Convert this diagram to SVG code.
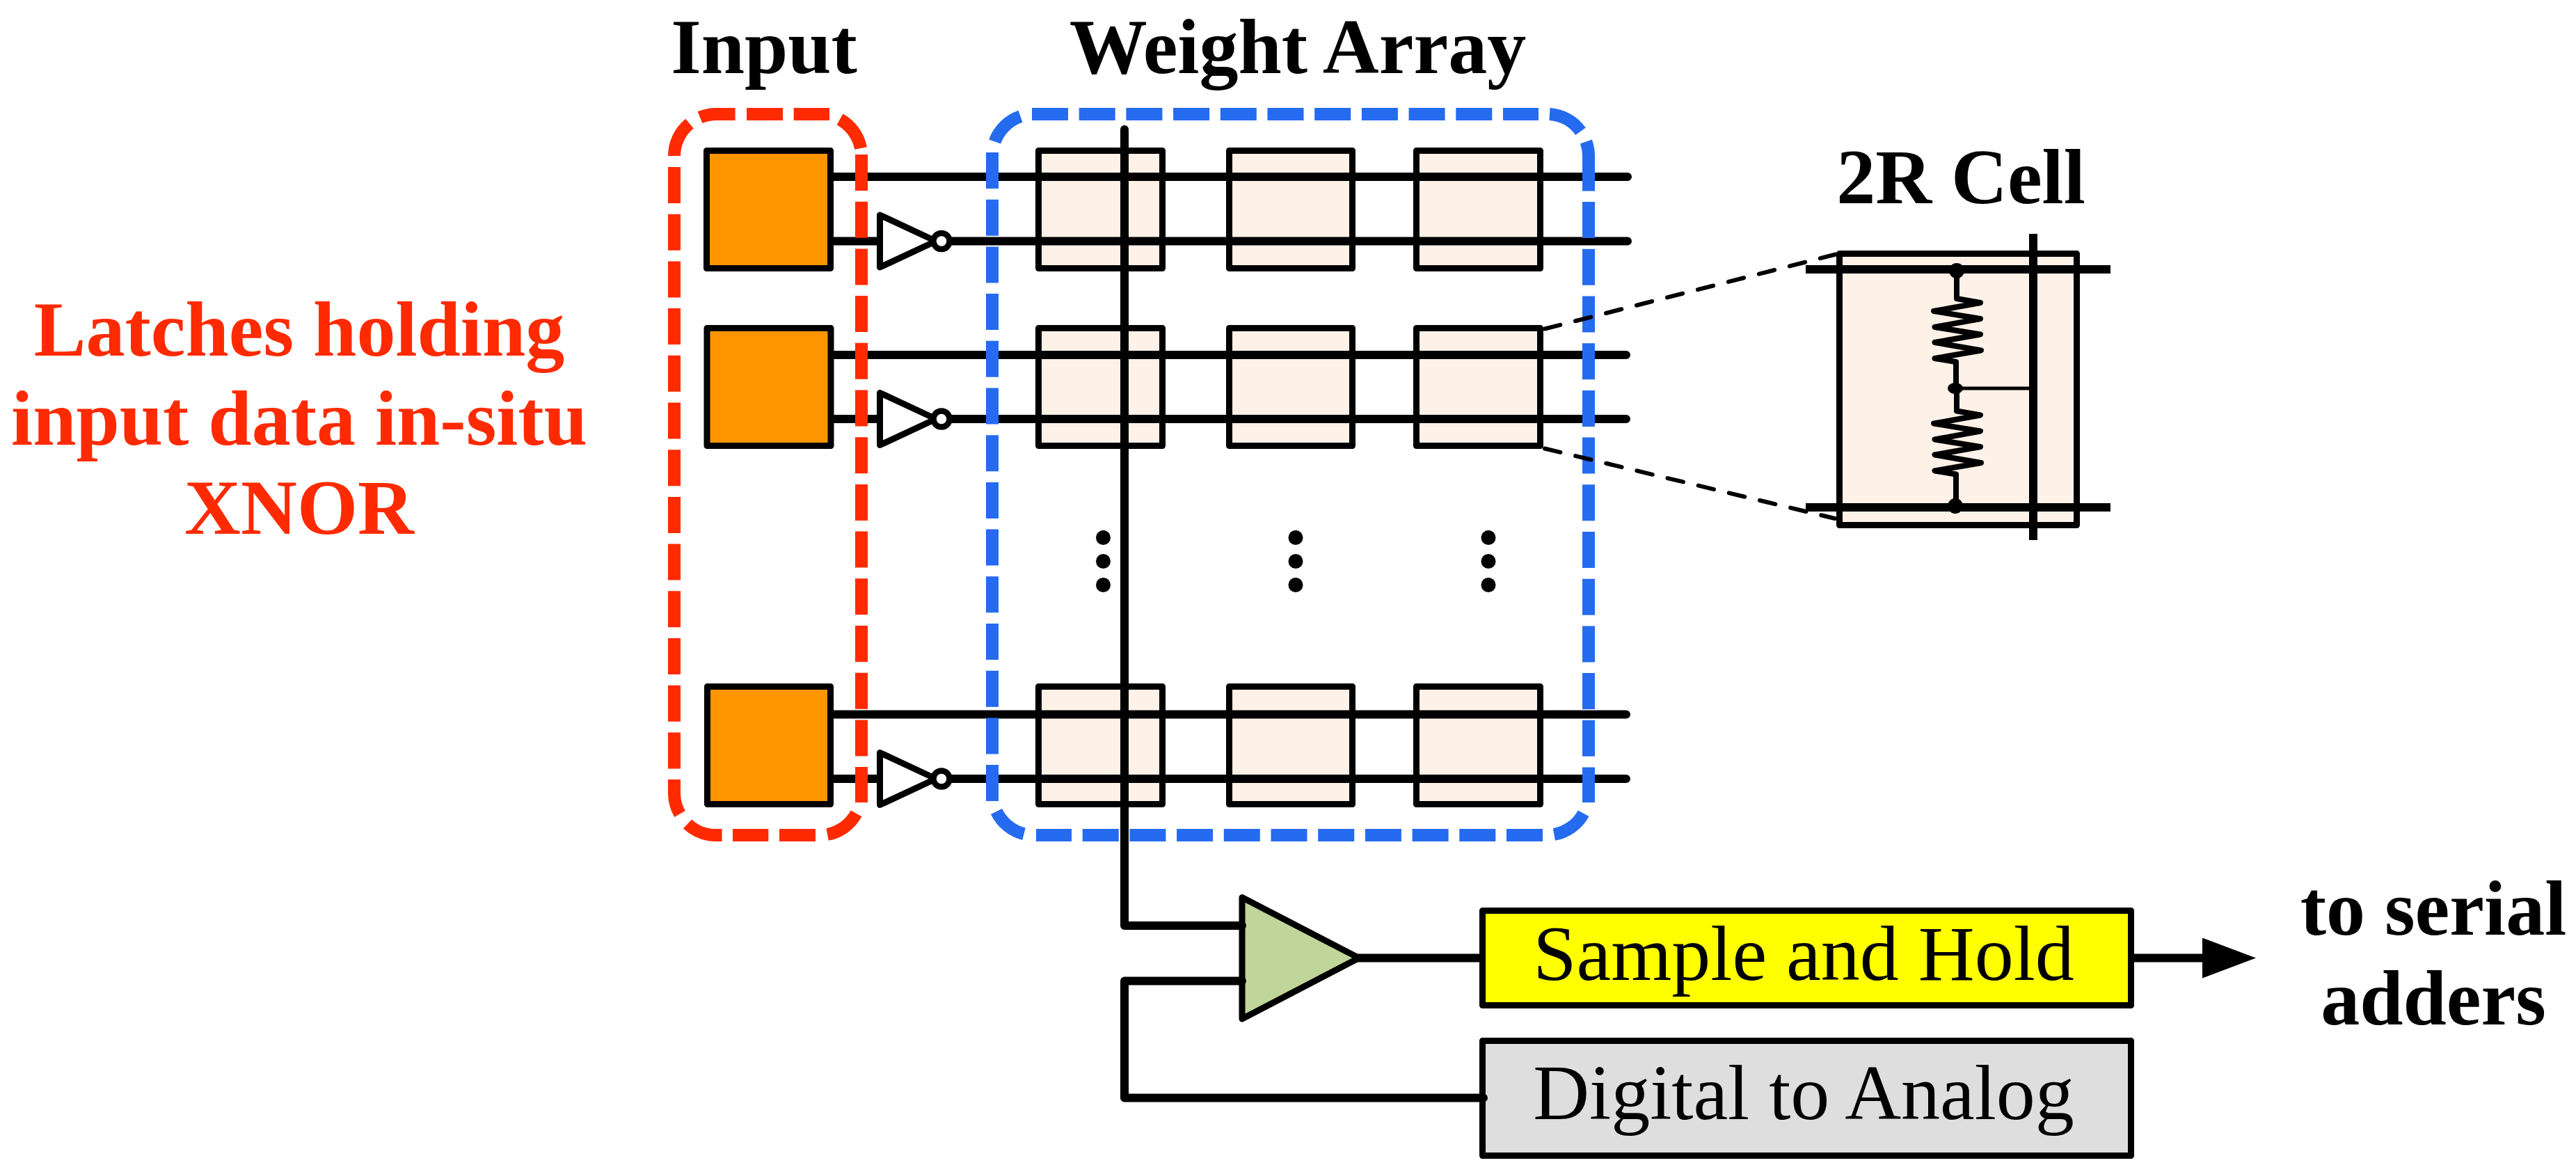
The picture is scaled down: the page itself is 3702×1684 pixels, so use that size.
<svg xmlns="http://www.w3.org/2000/svg" width="3702" height="1684" viewBox="0 0 3702 1684">
<style>
text{font-family:"Liberation Serif","Times New Roman",serif;font-size:112px;text-anchor:middle}
.b{font-weight:bold;fill:#000}
.r{font-weight:bold;fill:#FF2A00}
.t{fill:#000}
.box{stroke:#000;stroke-width:9;stroke-linejoin:round}
.latch{fill:#FF9500}
.cell{fill:#FEF1E8}
.wire{fill:none;stroke:#000;stroke-width:12;stroke-linecap:round;stroke-linejoin:round}
.butt{fill:none;stroke:#000;stroke-width:12;stroke-linecap:butt}
.inv{fill:#fff;stroke:#000;stroke-width:9;stroke-linejoin:round}
.bub{fill:#fff;stroke:#000;stroke-width:8.5}
.dots{fill:#000}
.res{fill:none;stroke:#000;stroke-width:8;stroke-linejoin:round}
.fr{fill:none;stroke-width:18;stroke-linecap:butt}
.dash{stroke-dasharray:52 15.7}
.red{stroke:#FF2A00}
.blue{stroke:#256BF0}
.zoomline{fill:none;stroke:#000;stroke-width:6;stroke-linecap:round;stroke-dasharray:23 22.4}
</style>
<defs>
<marker id="ah" markerUnits="userSpaceOnUse" markerWidth="77" markerHeight="58" refX="0" refY="29" orient="auto"><path d="M0 0L77 29L0 58Z" fill="#000"/></marker>
<g id="inverter"><path class="inv" d="M1264.5 309V384L1345 346.5Z"/><circle class="bub" cx="1353" cy="346.5" r="11.5"/></g>
</defs>
<rect width="3702" height="1684" fill="#fff"/>
<g id="label-input"><text class="b" x="1098" y="105">Input</text></g>
<g id="label-weight"><text class="b" x="1865" y="105">Weight Array</text></g>
<g id="label-2r"><text class="b" x="2818" y="292">2R Cell</text></g>
<g id="label-latches"><text class="r" x="430" y="511">Latches holding</text><text class="r" x="430" y="639">input data in-situ</text><text class="r" x="430" y="767">XNOR</text></g>
<g id="label-serial"><text class="b" x="3497" y="1343">to serial</text><text class="b" x="3497" y="1472">adders</text></g>
<g id="latch-1"><rect class="box latch" x="1015.5" y="216.5" width="178" height="169"/></g>
<g id="latch-2"><rect class="box latch" x="1016" y="471.5" width="178" height="169"/></g>
<g id="latch-3"><rect class="box latch" x="1016.5" y="986.5" width="177" height="169"/></g>
<g id="cell-1-1"><rect class="box cell" x="1492.5" y="216.5" width="178" height="169"/></g>
<g id="cell-1-2"><rect class="box cell" x="1766.5" y="216.5" width="177" height="169"/></g>
<g id="cell-1-3"><rect class="box cell" x="2035.5" y="216.5" width="178" height="169"/></g>
<g id="cell-2-1"><rect class="box cell" x="1492.5" y="471.5" width="178" height="169"/></g>
<g id="cell-2-2"><rect class="box cell" x="1766.5" y="471.5" width="177" height="169"/></g>
<g id="cell-2-3"><rect class="box cell" x="2035.5" y="471.5" width="178" height="169"/></g>
<g id="cell-3-1"><rect class="box cell" x="1492.5" y="986.5" width="178" height="169"/></g>
<g id="cell-3-2"><rect class="box cell" x="1766.5" y="986.5" width="177" height="169"/></g>
<g id="cell-3-3"><rect class="box cell" x="2035.5" y="986.5" width="178" height="169"/></g>
<g id="ellipsis" class="dots">
<circle cx="1585.5" cy="772.5" r="10.5"/><circle cx="1585.5" cy="806.5" r="10.5"/><circle cx="1585.5" cy="840.5" r="10.5"/>
<circle cx="1862" cy="772.5" r="10.5"/><circle cx="1862" cy="806.5" r="10.5"/><circle cx="1862" cy="840.5" r="10.5"/>
<circle cx="2139" cy="772.5" r="10.5"/><circle cx="2139" cy="806.5" r="10.5"/><circle cx="2139" cy="840.5" r="10.5"/>
</g>
<g id="amp"><path class="box" fill="#BFD59A" d="M1785 1289.5V1464L1953 1376.5Z"/></g>
<g id="sample-hold"><rect class="box" fill="#FFFF00" x="2130.5" y="1308.5" width="932" height="136"/><text class="t" x="2592" y="1408">Sample and Hold</text></g>
<g id="dac"><rect class="box" fill="#DEDEDE" x="2130.5" y="1495.5" width="932" height="165"/><text class="t" x="2592" y="1608">Digital to Analog</text></g>
<g id="connectors">
<path class="wire" d="M1197 254H2339M1197 510H2337M1197 1026.5H2337"/>
<path class="wire" d="M1197 346.5H1280M1360 346.5H2339M1197 602H1280M1360 602H2337M1197 1119H1280M1360 1119H2337"/>
<path class="wire" d="M1616 186V1330H1785"/>
<path class="wire" d="M1785 1409.5H1616V1577.5H2132"/>
<path class="wire" d="M1952 1376.5H2126"/>
<path class="butt" marker-end="url(#ah)" d="M3067 1376.5H3165"/>
</g>
<g id="inverter-1"><use href="#inverter"/></g>
<g id="inverter-2"><use href="#inverter" transform="translate(0 255.5)"/></g>
<g id="inverter-3"><use href="#inverter" transform="translate(0 772.5)"/></g>
<g id="input-frame">
<path class="fr red dash" d="M1073 164H1192M1238 222V1153M1172 1200H1053M969 240V1140"/>
<path class="fr red" d="M969 224A60 60 0 0 1 991 177.6M1006 168.6A60 60 0 0 1 1029 164H1056.6M1207 171.5A60 60 0 0 1 1237 213M1230.6 1168.9A60 60 0 0 1 1189.1 1199M1037.5 1200H1029A60 60 0 0 1 988 1184M977 1169.6A60 60 0 0 1 969 1140"/>
</g>
<g id="weight-frame">
<path class="fr blue dash" d="M1483 164H2211M2283 222.4V1153M2217 1200H1489M1426 219V1151"/>
<path class="fr blue" d="M2227 164.1A60 60 0 0 1 2271.5 188.7M2279.4 203.5A60 60 0 0 1 2283 224M2275.7 1168.7A60 60 0 0 1 2233.4 1199M1471.5 1198.2A60 60 0 0 1 1432 1166M1429.6 203.5A60 60 0 0 1 1466.5 167.3"/>
</g>
<g id="zoom-lines">
<path class="zoomline" d="M2220 472.5L2638 365.5"/>
<path class="zoomline" d="M2220 644.5L2637 745"/>
</g>
<g id="cell-detail">
<rect class="box cell" x="2643.5" y="364.5" width="341" height="390"/>
<circle class="dots" cx="2812" cy="389" r="11"/>
<ellipse class="dots" cx="2810" cy="558" rx="11" ry="8"/>
<circle class="dots" cx="2810" cy="727" r="11"/>
<path class="res" d="M2812 399V429L2846 435L2779 447L2846 458L2780.5 470L2846 480.5L2780.5 492L2847 503.5L2780.5 515L2811 520V558"/>
<path class="res" d="M2812 558V590.5L2846 596.5L2779 608.5L2846 619.5L2780.5 631.5L2846 642L2780.5 653.5L2847 665L2780.5 676.5L2811 681.5V720"/>
<path fill="none" stroke="#000" stroke-width="5" d="M2810 558H2916"/>
<path class="butt" d="M2595 387H3033M2595 729H3033M2922 336V776"/>
</g>
</svg>
